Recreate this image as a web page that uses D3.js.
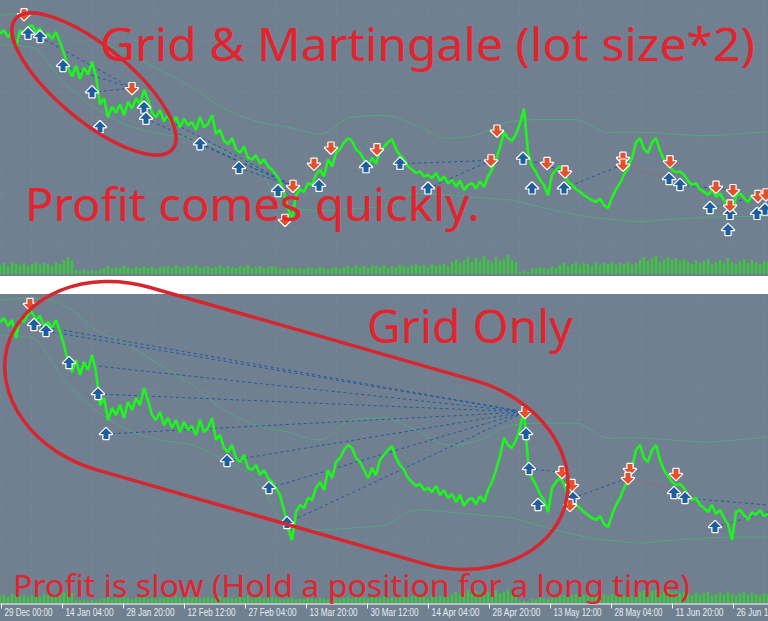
<!DOCTYPE html>
<html><head><meta charset="utf-8">
<script src="https://cdn.jsdelivr.net/npm/d3@7"></script>
<style>html,body{margin:0;padding:0;background:#708090;overflow:hidden}</style>
</head><body>
<svg id="c" width="768" height="621"></svg>
<script>
// ---------- DATA ----------
const tickLabels = ["29 Dec 00:00","14 Jan 04:00","28 Jan 20:00","12 Feb 12:00","27 Feb 04:00","13 Mar 20:00","30 Mar 12:00","14 Apr 04:00","28 Apr 20:00","13 May 12:00","28 May 04:00","11 Jun 20:00","26 Jun 12:00"];

// close price (arbitrary points), one value per bar step
const price = [
278,282,274,280,262,282,278,286,288,280,
284,274,278,272,280,268,255,238,228,240,
225,238,230,245,228,195,202,180,192,185,
195,182,198,190,202,195,212,200,185,180,
188,175,182,172,180,168,178,170,174,165,
180,168,172,182,160,165,152,148,155,142,
138,145,132,130,135,125,130,122,118,112,
105,90,72,60,88,95,92,102,100,112,
118,110,130,122,138,142,150,155,152,142,
138,130,122,132,125,140,145,150,154,142,
135,130,122,118,114,116,110,112,108,114,
105,110,102,106,98,105,94,100,102,96,
104,98,110,118,130,144,162,155,152,160,
172,190,138,122,115,106,100,88,112,118,
122,116,104,100,95,92,88,85,82,80,
84,76,73,85,95,102,112,120,132,150,
155,142,138,150,155,140,130,124,118,115,
116,112,105,100,102,95,92,88,95,86,
90,82,76,60,88,90,85,80,88,85,
90,84,86];

const volume = [
9,11,8,12,10,9,11,8,10,12,9,11,10,8,12,10,
14,17,13,
4,3,5,3,4,3,5,
6,8,5,7,6,8,7,5,7,6,8,6,7,5,7,
7,8,6,9,7,6,8,7,9,6,7,8,6,7,9,6,8,7,6,8,7,9,6,7,8,6,7,8,7,6,
5,6,7,5,6,5,7,6,5,7,6,5,6,7,5,
7,8,6,9,7,8,6,9,8,7,9,6,8,7,9,8,7,9,10,8,9,7,10,8,9,10,8,
12,15,11,14,17,12,16,13,18,14,12,17,13,15,19,14,12,
2,3,2,
6,5,7,6,5,7,6,
9,11,8,10,12,9,11,10,8,12,9,11,10,12,9,11,10,12,9,11,
14,17,13,16,18,12,15,17,14,16,13,15,
12,10,14,11,13,15,10,12,14,11,16,12,10,13,15,11,14,12,10,13,12];

// Bollinger bands, one value every 8 bars
const bandUpper = [300,302,295,270,255,235,215,190,175,168,160,180,182,170,155,160,175,177,177,162,162,160,158,160,163];
const bandLower = [265,262,220,190,170,160,155,140,120,75,70,72,75,90,88,85,82,73,65,60,57,60,62,63,63];

// trade arrows [bar, price]
const topBuys = [[7,278],[10,274],[15.75,240],[23,209],[25,168],[36,191],[36.5,178],[50,148],[59.75,120],[69.5,93],[79.75,99],[91.5,121],[100,125],[107,96],[130.75,131],[133,96],[141,96],[167.25,107],[170,100],[177.5,73],[182.5,66],[182,47],[189.25,66],[191.25,71]];
const topSells = [[6,301],[33,214],[73.25,99],[71.25,59],[78.5,125],[82.75,144],[94.25,142],[122.75,129],[124.25,164],[136.75,126],[141.25,116],[155.75,132],[155.75,124],[167.5,128],[179,98],[183.25,94],[182.5,76],[189.5,87],[191.5,89]];
const botBuys = [[8.5,275],[11.5,269],[17.25,237],[24.5,206],[26.5,166],[56.75,139],[67.25,112],[71.75,77],[131.5,166],[132.25,131],[134.5,95],[143.25,102],[168.5,107],[171.25,102],[178.75,73]];
const botSells = [[7.5,296],[131.25,188],[140.5,128],[143,115],[142.5,95],[157.5,131],[157,122],[169,126]];

// order links [bar1, price1, bar2, price2]
const topBlueLinks = [[10,274,33,214],[15.75,240,33,214],[23,209,33,214],[36,191,73.25,99],[50,148,73.25,99],[59.75,120,73.25,99],[36.5,178,73.25,99],[100,125,122.75,129],[107,96,122.75,129],[130.75,131,141.25,116],[141,96,155.75,124],[170,100,183.25,94],[177.5,73,189.5,87]];
const topRedLinks = [[82.75,144,91.5,121],[155.75,124,167.25,107]];
const botBlueLinks = [[8.5,275,131.25,188],[11.5,269,131.25,188],[17.25,237,131.25,188],[24.5,206,131.25,188],[26.5,166,131.25,188],[56.75,139,131.25,188],[67.25,112,131.25,188],[71.75,77,131.25,188],[132.25,131,140.5,128],[143.25,102,157,122],[171.25,102,192,95],[178.75,73,192,88]];
const botRedLinks = [[157.5,122,168.5,110]];

// ---------- DRAW ----------
const svg = d3.select("#c");
const W = 768, H = 621;
const x = d3.scaleLinear().domain([0, 192]).range([0, 768]);
const yTop = d3.scaleLinear().domain([0, 300]).range([270, 15]);
const yBot = d3.scaleLinear().domain([0, 300]).range([600, 300]);
const vTop = d3.scaleLinear().domain([0, 20]).range([274, 254]);
const vBot = d3.scaleLinear().domain([0, 20]).range([603, 588]);

svg.append("rect").attr("width", W).attr("height", H).attr("fill", "#708090");

const defs = svg.append("defs");
defs.append("clipPath").attr("id", "clipTop").append("rect").attr("x", 0).attr("y", 0).attr("width", W).attr("height", 276);
defs.append("clipPath").attr("id", "clipBot").append("rect").attr("x", 0).attr("y", 294).attr("width", W).attr("height", 309.5);

const tickIdx = tickLabels.map((d, i) => 0.25 + 15.25 * i);

const panels = [
  {y: yTop, v: vTop, clip: "clipTop", y0: 0, y1: 276, buys: topBuys, sells: topSells, blue: topBlueLinks, red: topRedLinks},
  {y: yBot, v: vBot, clip: "clipBot", y0: 294, y1: 603, buys: botBuys, sells: botSells, blue: botBlueLinks, red: botRedLinks}
];

const buyPath = "M0,-6L6,0L2.5,0L2.5,5L-2.5,5L-2.5,0L-6,0Z";
const sellPath = "M0,6L6,0L2.5,0L2.5,-5L-2.5,-5L-2.5,0L-6,0Z";

panels.forEach(p => {
  const g = svg.append("g").attr("clip-path", `url(#${p.clip})`);
  // faint dotted grid
  const gx = d3.range(0, 26).map(k => 0.25 + 7.625 * k);
  g.selectAll("line.gv").data(gx).join("line")
    .attr("x1", d => x(d)).attr("x2", d => x(d)).attr("y1", p.y0).attr("y2", p.y1)
    .attr("stroke", "rgba(255,255,255,0.07)").attr("stroke-dasharray", "1,2");
  const gy = d3.range(0, 320, 30);
  g.selectAll("line.gh").data(gy).join("line")
    .attr("x1", 0).attr("x2", W).attr("y1", d => p.y(d)).attr("y2", d => p.y(d))
    .attr("stroke", "rgba(255,255,255,0.07)").attr("stroke-dasharray", "1,2");

  // volume
  g.selectAll("rect.vol").data(volume).join("rect")
    .attr("x", (d, i) => x(i) - 1.2).attr("width", 2.4)
    .attr("y", d => p.v(d)).attr("height", d => p.v(0) - p.v(d))
    .attr("fill", "#3cc83c");

  // bands
  const bl = d3.line().x((d, i) => x(i * 8)).y(d => p.y(d)).curve(d3.curveMonotoneX);
  [bandUpper, bandLower].forEach(b => {
    g.append("path").datum(b).attr("d", bl).attr("fill", "none")
      .attr("stroke", "#4fae7c").attr("stroke-width", 1).attr("opacity", 0.8);
  });

  // links
  g.selectAll("line.bl").data(p.blue).join("line")
    .attr("x1", d => x(d[0])).attr("y1", d => p.y(d[1])).attr("x2", d => x(d[2])).attr("y2", d => p.y(d[3]))
    .attr("stroke", "#1d5aa0").attr("stroke-width", 1).attr("stroke-dasharray", "3,3");
  g.selectAll("line.rl").data(p.red).join("line")
    .attr("x1", d => x(d[0])).attr("y1", d => p.y(d[1])).attr("x2", d => x(d[2])).attr("y2", d => p.y(d[3]))
    .attr("stroke", "#c8503c").attr("stroke-width", 1).attr("stroke-dasharray", "1,2");

  // price
  const pl = d3.line().x((d, i) => x(i)).y(d => p.y(d));
  g.append("path").datum(price).attr("d", pl).attr("fill", "none")
    .attr("stroke", "#1ef51e").attr("stroke-width", 2.6).attr("stroke-linejoin", "bevel");

  // arrows
  g.selectAll("path.buy").data(p.buys).join("path")
    .attr("d", buyPath).attr("transform", d => `translate(${x(d[0])},${p.y(d[1])})`)
    .attr("fill", "#1f5e9c").attr("stroke", "#ffffff").attr("stroke-width", 2.4).attr("stroke-linejoin", "round")
    .style("paint-order", "stroke");
  g.selectAll("path.sell").data(p.sells).join("path")
    .attr("d", sellPath).attr("transform", d => `translate(${x(d[0])},${p.y(d[1])})`)
    .attr("fill", "#e2502c").attr("stroke", "#ffffff").attr("stroke-width", 2.4).attr("stroke-linejoin", "round")
    .style("paint-order", "stroke");
});

// separator band
svg.append("rect").attr("x", 0).attr("y", 276).attr("width", W).attr("height", 18).attr("fill", "#ffffff");

// x axis
const axis = d3.axisBottom(x).tickValues(tickIdx).tickFormat((d, i) => tickLabels[i]).tickSize(5).tickSizeOuter(0);
const ax = svg.append("g").attr("transform", "translate(0,603.5)").call(axis);
ax.select(".domain").attr("stroke", "#ffffff").attr("stroke-width", 1.2);
ax.selectAll(".tick line").attr("stroke", "#ffffff");
ax.selectAll(".tick text").attr("fill", "#e8edf2").attr("x", 3).attr("y", 12.5).attr("dy", "0")
  .style("text-anchor", "start").style("font-family", "'Liberation Sans', Arial, sans-serif").style("font-size", "10px")
  .attr("textLength", 48).attr("lengthAdjust", "spacingAndGlyphs");

// annotations: hand-drawn loops (centre in data space, size in px)
const loops = [
  {bar: 23.5, val: 218.8, y: yTop, w: 204, h: 74, rx: 102, ry: 37, rot: 39.6},
  {bar: 71.6, val: 174.6, y: yBot, w: 580, h: 190, rx: 120, ry: 95, rot: 16}
];
svg.selectAll("rect.ann").data(loops).join("rect")
  .attr("x", d => -d.w / 2).attr("y", d => -d.h / 2).attr("width", d => d.w).attr("height", d => d.h)
  .attr("rx", d => d.rx).attr("ry", d => d.ry)
  .attr("transform", d => `translate(${x(d.bar)},${d.y(d.val)}) rotate(${d.rot})`)
  .attr("fill", "none").attr("stroke", "#d6262f").attr("stroke-width", 3.5);

const notes = [
  {t: "Grid & Martingale (lot size*2)", x: 100, y: 61, s: 46, w: 655},
  {t: "Profit comes quickly.", x: 25, y: 221, s: 46, w: 455},
  {t: "Grid Only", x: 367, y: 343, s: 45, w: 206},
  {t: "Profit is slow (Hold a position for a long time)", x: 13, y: 597, s: 31, w: 677}
];
svg.selectAll("text.note").data(notes).join("text")
  .attr("x", d => d.x).attr("y", d => d.y).text(d => d.t)
  .attr("font-family", "'Noto Sans', 'Open Sans', sans-serif").attr("font-size", d => d.s)
  .attr("fill", "#e3232e").attr("textLength", d => d.w).attr("lengthAdjust", "spacingAndGlyphs");
</script>
</body></html>
